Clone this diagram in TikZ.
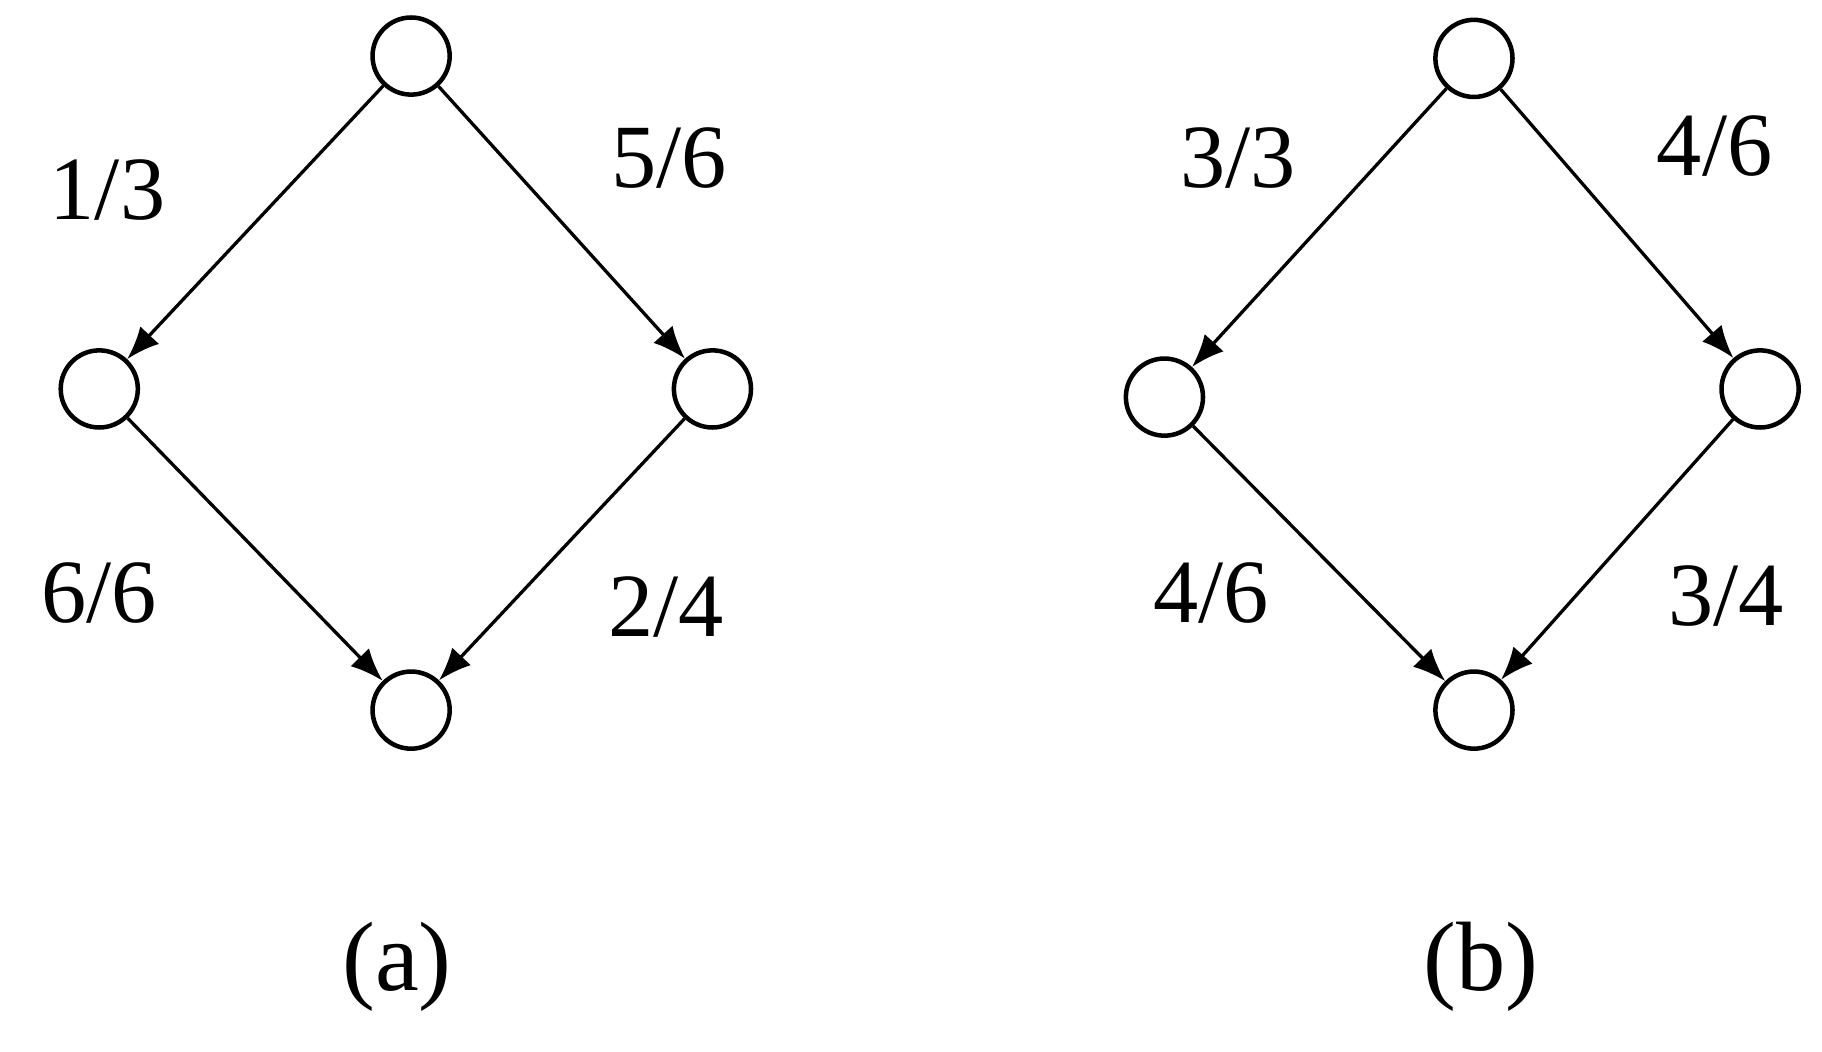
\documentclass[tikz,border=0pt]{standalone}
\usepackage{fontspec}
\setmainfont{Liberation Serif}
\usetikzlibrary{arrows.meta}
\begin{document}
\begin{tikzpicture}[x=0.01cm,y=-0.01cm,
  vtx/.style={circle,draw,line width=1.1pt,minimum size=0.66cm,inner sep=0pt},
  edge/.style={line width=0.8pt,-{Latex[length=0.28cm,width=0.22cm]}},
  lbl/.style={font=\fontsize{22}{26}\selectfont},
  captext/.style={font=\fontsize{24}{28}\selectfont}]
\useasboundingbox (0,0) rectangle (1560,900);
\node[vtx] (at) at (352,48) {};
\node[vtx] (al) at (85,333) {};
\node[vtx] (ar) at (610,333) {};
\node[vtx] (ab) at (352,608) {};
\draw[edge] (at) -- (al);
\draw[edge] (at) -- (ar);
\draw[edge] (al) -- (ab);
\draw[edge] (ar) -- (ab);
\node[lbl] (l1) at (92,163) {1/3};
\node[lbl] (l2) at (573,135) {5/6};
\node[lbl] (l3) at (85,508) {6/6};
\node[lbl] (l4) at (570,520) {2/4};
\node[captext] (ca) at (340,828) {(a)};
\node[vtx] (bt) at (1262,50) {};
\node[vtx] (bl) at (997,340) {};
\node[vtx] (br) at (1507,333) {};
\node[vtx] (bb) at (1262,608) {};
\draw[edge] (bt) -- (bl);
\draw[edge] (bt) -- (br);
\draw[edge] (bl) -- (bb);
\draw[edge] (br) -- (bb);
\node[lbl] (m1) at (1060,135) {3/3};
\node[lbl] (m2) at (1468,125) {4/6};
\node[lbl] (m3) at (1037,508) {4/6};
\node[lbl] (m4) at (1478,510) {3/4};
\node[captext] (cb) at (1268,828) {(b)};
\end{tikzpicture}
\end{document}
